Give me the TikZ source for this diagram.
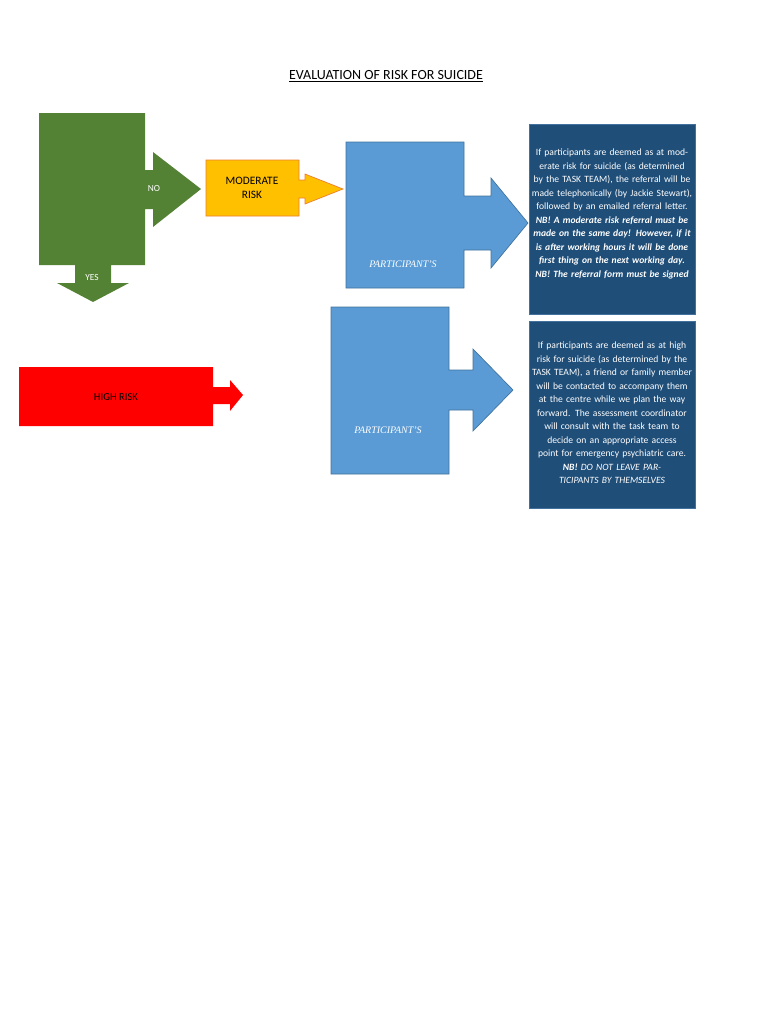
\documentclass[tikz,border=0pt]{standalone}
\usepackage{fontspec}
\setmainfont{Carlito}
\newfontfamily\serifit{Liberation Serif}
\begin{document}
\begin{tikzpicture}[x=0.75pt,y=-0.75pt,
  green/.style={fill=green!40!black!70!olive,fill={rgb,255:red,84;green,130;blue,53}},
  lblue/.style={fill={rgb,255:red,91;green,155;blue,213},draw={rgb,255:red,65;green,113;blue,156},line width=0.5pt},
  dblue/.style={fill={rgb,255:red,31;green,78;blue,121},draw={rgb,255:red,65;green,113;blue,156},line width=0.6pt},
  boxtext/.style={text=white,align=center,text width=122pt,font=\fontsize{7.2}{10.1}\selectfont,inner sep=0pt},
  partlbl/.style={text=white,font=\serifit\itshape\fontsize{7.5}{9}\selectfont}]
\useasboundingbox (0,0) rectangle (768,1024);
\node (title) at (386,76) {\fontsize{10.5}{12}\selectfont\underline{EVALUATION OF RISK FOR SUICIDE}};
% green
\path[green] (39,113) -- (145,113) -- (145,170) -- (153,170) -- (153,152) -- (201,189) -- (153,227) -- (153,209) -- (145,209) -- (145,265)
  -- (111,265) -- (111,283) -- (129,283) -- (93,302) -- (57,283) -- (75,283) -- (75,265) -- (39,265) -- cycle;
\node[text=white,font=\fontsize{7}{8}\selectfont] (no) at (154,189) {NO};
\node[text=white,font=\fontsize{7}{8}\selectfont] (yes) at (92,278) {YES};
% yellow
\path[fill={rgb,255:red,255;green,192;blue,0},draw={rgb,255:red,237;green,125;blue,49},line width=0.5pt]
  (206,160) -- (299,160) -- (299,180) -- (305,180) -- (305,174) -- (343,189) -- (305,204) -- (305,198) -- (299,198) -- (299,216) -- (206,216) -- cycle;
\node[align=center,font=\fontsize{8.5}{11}\selectfont] (mod) at (252,188) {MODERATE\\RISK};
% red
\path[fill=red] (19,367) -- (213,367) -- (213,387) -- (230,387) -- (230,380) -- (243,395) -- (230,411) -- (230,404) -- (213,404) -- (213,426) -- (19,426) -- cycle;
\node[font=\fontsize{8}{10}\selectfont] (high) at (116,397) {HIGH RISK};
% participant 1
\path[lblue] (346,142) -- (464,142) -- (464,196) -- (491,196) -- (491,178) -- (528,223) -- (491,268) -- (491,250) -- (464,250) -- (464,288) -- (346,288) -- cycle;
\node[partlbl] (p1) at (403,264) {PARTICIPANT’S};
% participant 2
\path[lblue] (331,307) -- (449,307) -- (449,370) -- (473,370) -- (473,349) -- (513,390) -- (473,431) -- (473,410) -- (449,410) -- (449,474) -- (331,474) -- cycle;
\node[partlbl] (p2) at (388,430) {PARTICIPANT’S};
% boxes
\path[dblue] (529,124) rectangle (695,314);
\node[boxtext] (t1) at (612,214) {If participants are deemed as at moderate risk for suicide (as determined by the TASK TEAM), the referral will be made telephonically (by Jackie Stewart), followed by an emailed referral letter.\\
\textbf{\itshape NB! A moderate risk referral must be made on the same day! However, if it is after working hours it will be done first thing on the next working day. NB! The referral form must be signed}};
\path[dblue] (529,321) rectangle (695,508);
\node[boxtext] (t2) at (612,413) {If participants are deemed as at high risk for suicide (as determined by the TASK TEAM), a friend or family member will be contacted to accompany them at the centre while we plan the way forward. The assessment coordinator will consult with the task team to decide on an appropriate access point for emergency psychiatric care.\\
\textit{\textbf{NB!} DO NOT LEAVE PARTICIPANTS BY THEMSELVES}};
\end{tikzpicture}
\end{document}
